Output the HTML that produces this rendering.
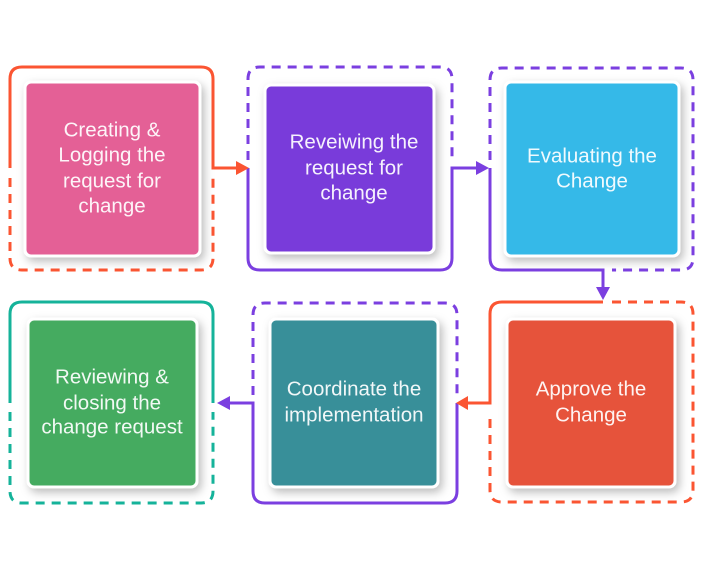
<!DOCTYPE html>
<html><head><meta charset="utf-8"><style>
html,body{margin:0;padding:0;background:#fff;}
svg{display:block;}
text{font-family:"Liberation Sans",Arial,sans-serif;font-size:20.5px;fill:#fff;fill-opacity:0.93;}
</style></head><body>
<svg width="704" height="572" viewBox="0 0 704 572" xmlns="http://www.w3.org/2000/svg">
<defs>
<filter id="sh" x="-20%" y="-20%" width="150%" height="150%">
<feDropShadow dx="3" dy="4" stdDeviation="4.5" flood-color="#000" flood-opacity="0.26"/>
</filter>
</defs>
<g fill="none" stroke-width="3" stroke-linecap="butt">
<path d="M10,168 V79 Q10,67 22,67 H201 Q213,67 213,79 V168 H238" stroke="#FB5532"/>
<path d="M10,178 V258 Q10,270 22,270 H201 Q213,270 213,258 V178" stroke="#FB5532" stroke-dasharray="9 7"/>
<path d="M248,160 V79 Q248,67 260,67 H440 Q452,67 452,79 V160" stroke="#7B3FE0" stroke-dasharray="9 7"/>
<path d="M248,168 V258 Q248,270 260,270 H440 Q452,270 452,258 V168 H478" stroke="#7B3FE0"/>
<path d="M490,160 V80 Q490,68 502,68 H681 Q693,68 693,80 V258 Q693,270 681,270 H612" stroke="#7B3FE0" stroke-dasharray="9 7"/>
<path d="M490,168 V258 Q490,270 502,270 H603 V289" stroke="#7B3FE0"/>
<path d="M603,302 H502 Q490,302 490,314 V403 H466" stroke="#FB5532"/>
<path d="M612,302 H681 Q693,302 693,314 V490 Q693,502 681,502 H502 Q490,502 490,490 V412" stroke="#FB5532" stroke-dasharray="9 7"/>
<path d="M253,395 V315 Q253,303 265,303 H445 Q457,303 457,315 V395" stroke="#7B3FE0" stroke-dasharray="9 7"/>
<path d="M457,403 V491 Q457,503 445,503 H265 Q253,503 253,491 V403 H228" stroke="#7B3FE0"/>
<path d="M10,403 V314 Q10,302 22,302 H201 Q213,302 213,314 V403" stroke="#15B39A"/>
<path d="M10,412 V491 Q10,503 22,503 H201 Q213,503 213,491 V412" stroke="#15B39A" stroke-dasharray="9 7"/>
</g>
<polygon points="236,161 249,168 236,175" fill="#FB5532"/>
<polygon points="476,161 489,168 476,175" fill="#7B3FE0"/>
<polygon points="596,287 610,287 603,300" fill="#7B3FE0"/>
<polygon points="468,396 468,410 456,403" fill="#FB5532"/>
<polygon points="230,396 230,410 217,403" fill="#7B3FE0"/>
<g filter="url(#sh)" stroke="#fff" stroke-width="3">
<rect x="25" y="82" width="175" height="174" rx="6" fill="#E46096"/>
<rect x="265" y="85" width="169" height="168" rx="6" fill="#793BDA"/>
<rect x="505" y="82" width="174" height="174" rx="6" fill="#36B9E8"/>
<rect x="28" y="319" width="169" height="168" rx="6" fill="#45AB60"/>
<rect x="270" y="319" width="168" height="168" rx="6" fill="#378F99"/>
<rect x="507" y="319" width="168" height="168" rx="6" fill="#E6533A"/>
</g>
<g text-anchor="middle" dominant-baseline="central">
<text x="112" y="130">Creating &amp;</text>
<text x="112" y="155">Logging the</text>
<text x="112" y="181">request for</text>
<text x="112" y="206">change</text>
<text x="354" y="142">Reveiwing the</text>
<text x="354" y="168">request for</text>
<text x="354" y="193">change</text>
<text x="592" y="156">Evaluating the</text>
<text x="592" y="181">Change</text>
<text x="112" y="377">Reviewing &amp;</text>
<text x="112" y="403">closing the</text>
<text x="112" y="427">change request</text>
<text x="354" y="389">Coordinate the</text>
<text x="354" y="415">implementation</text>
<text x="591" y="389">Approve the</text>
<text x="591" y="415">Change</text>
</g>
</svg>
</body></html>
